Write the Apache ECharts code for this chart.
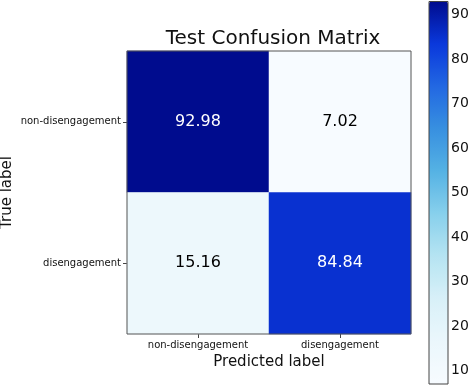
<!DOCTYPE html>
<html><head><meta charset="utf-8">
<script src="https://cdn.jsdelivr.net/npm/echarts@6/dist/echarts.min.js"></script>
<style>html,body{margin:0;padding:0;background:#fff}#c{width:474px;height:387px}</style>
</head><body><div id="c"></div>
<script>
const predictedLabels = ['non-disengagement', 'disengagement'];
const trueLabels = ['non-disengagement', 'disengagement'];
// rows = true label, columns = predicted label (percent)
const rowNonDisengagement = [92.98, 7.02];
const rowDisengagement = [15.16, 84.84];
const colorbarTicks = [10, 20, 30, 40, 50, 60, 70, 80, 90];
const vMin = 7.02, vMax = 92.98;

const rows = [rowNonDisengagement, rowDisengagement];
const data = [];
rows.forEach((r, yi) => r.forEach((v, xi) => {
  data.push({ value: [xi, yi, v], label: { color: v > 50 ? '#ffffff' : '#000000' } });
}));

const FONT = 'DejaVu Sans';
const blues = ['#f7fbff', '#ebf7fc', '#d8f0f8', '#b6e4f2', '#88d0ec', '#55b2e4', '#3890e0', '#2268e2', '#0a38dc', '#000c8e'];

const chart = echarts.init(document.getElementById('c'), null, { renderer: 'canvas' });
chart.setOption({
  backgroundColor: '#ffffff',
  animation: false,
  textStyle: { fontFamily: FONT },
  title: {
    text: 'Test Confusion Matrix', left: 268, top: 24, textAlign: 'center',
    textStyle: { fontFamily: FONT, fontSize: 20, fontWeight: 'normal', color: '#111' }
  },
  grid: [
    { left: 127, top: 51, width: 284, height: 283, show: true, borderColor: '#555', borderWidth: 1, backgroundColor: 'transparent', z: 5, containLabel: false, outerBoundsMode: 'none' },
    { left: 429, top: 1.5, width: 19, height: 382.5, show: true, borderColor: '#444', borderWidth: 1, backgroundColor: 'transparent', z: 5, containLabel: false, outerBoundsMode: 'none' }
  ],
  xAxis: [
    {
      gridIndex: 0, type: 'category', data: predictedLabels, position: 'bottom',
      name: 'Predicted label', nameLocation: 'middle', nameGap: 21, nameMoveOverlap: false,
      nameTextStyle: { fontFamily: FONT, fontSize: 15, color: '#111' },
      axisLine: { show: false },
      axisTick: { show: true, alignWithLabel: true, length: 4, lineStyle: { color: '#444' } },
      axisLabel: { fontFamily: FONT, fontSize: 10, color: '#111', margin: 6 },
      splitLine: { show: false }
    },
    { gridIndex: 1, type: 'value', show: false, min: 0, max: 1 }
  ],
  yAxis: [
    {
      gridIndex: 0, type: 'category', data: trueLabels, inverse: true,
      name: 'True label', nameLocation: 'middle', nameGap: 112, nameRotate: 90, nameMoveOverlap: false,
      nameTextStyle: { fontFamily: FONT, fontSize: 15, color: '#111' },
      axisLine: { show: false },
      axisTick: { show: true, alignWithLabel: true, length: 4, lineStyle: { color: '#444' } },
      axisLabel: { fontFamily: FONT, fontSize: 10, color: '#111', margin: 6 },
      splitLine: { show: false }
    },
    {
      gridIndex: 1, type: 'value', min: vMin, max: vMax, position: 'right',
      axisLine: { show: false },
      axisTick: { show: true, length: 4, inside: false, customValues: colorbarTicks, lineStyle: { color: '#444' } },
      axisLabel: { fontFamily: FONT, fontSize: 14, color: '#111', margin: 3, customValues: colorbarTicks },
      splitLine: { show: false }
    }
  ],
  visualMap: {
    type: 'continuous', min: vMin, max: vMax, seriesIndex: 0,
    orient: 'vertical', left: 429, top: 1.5, itemWidth: 19, itemHeight: 382.5,
    padding: 0, calculable: false, text: null, showLabel: false, hoverLink: false,
    inRange: { color: blues }
  },
  series: [{
    type: 'heatmap', xAxisIndex: 0, yAxisIndex: 0, data: data,
    label: { show: true, fontFamily: FONT, fontSize: 16, formatter: p => p.value[2].toFixed(2) },
    itemStyle: { borderWidth: 0 },
    emphasis: { disabled: true }
  }]
});
</script></body></html>
